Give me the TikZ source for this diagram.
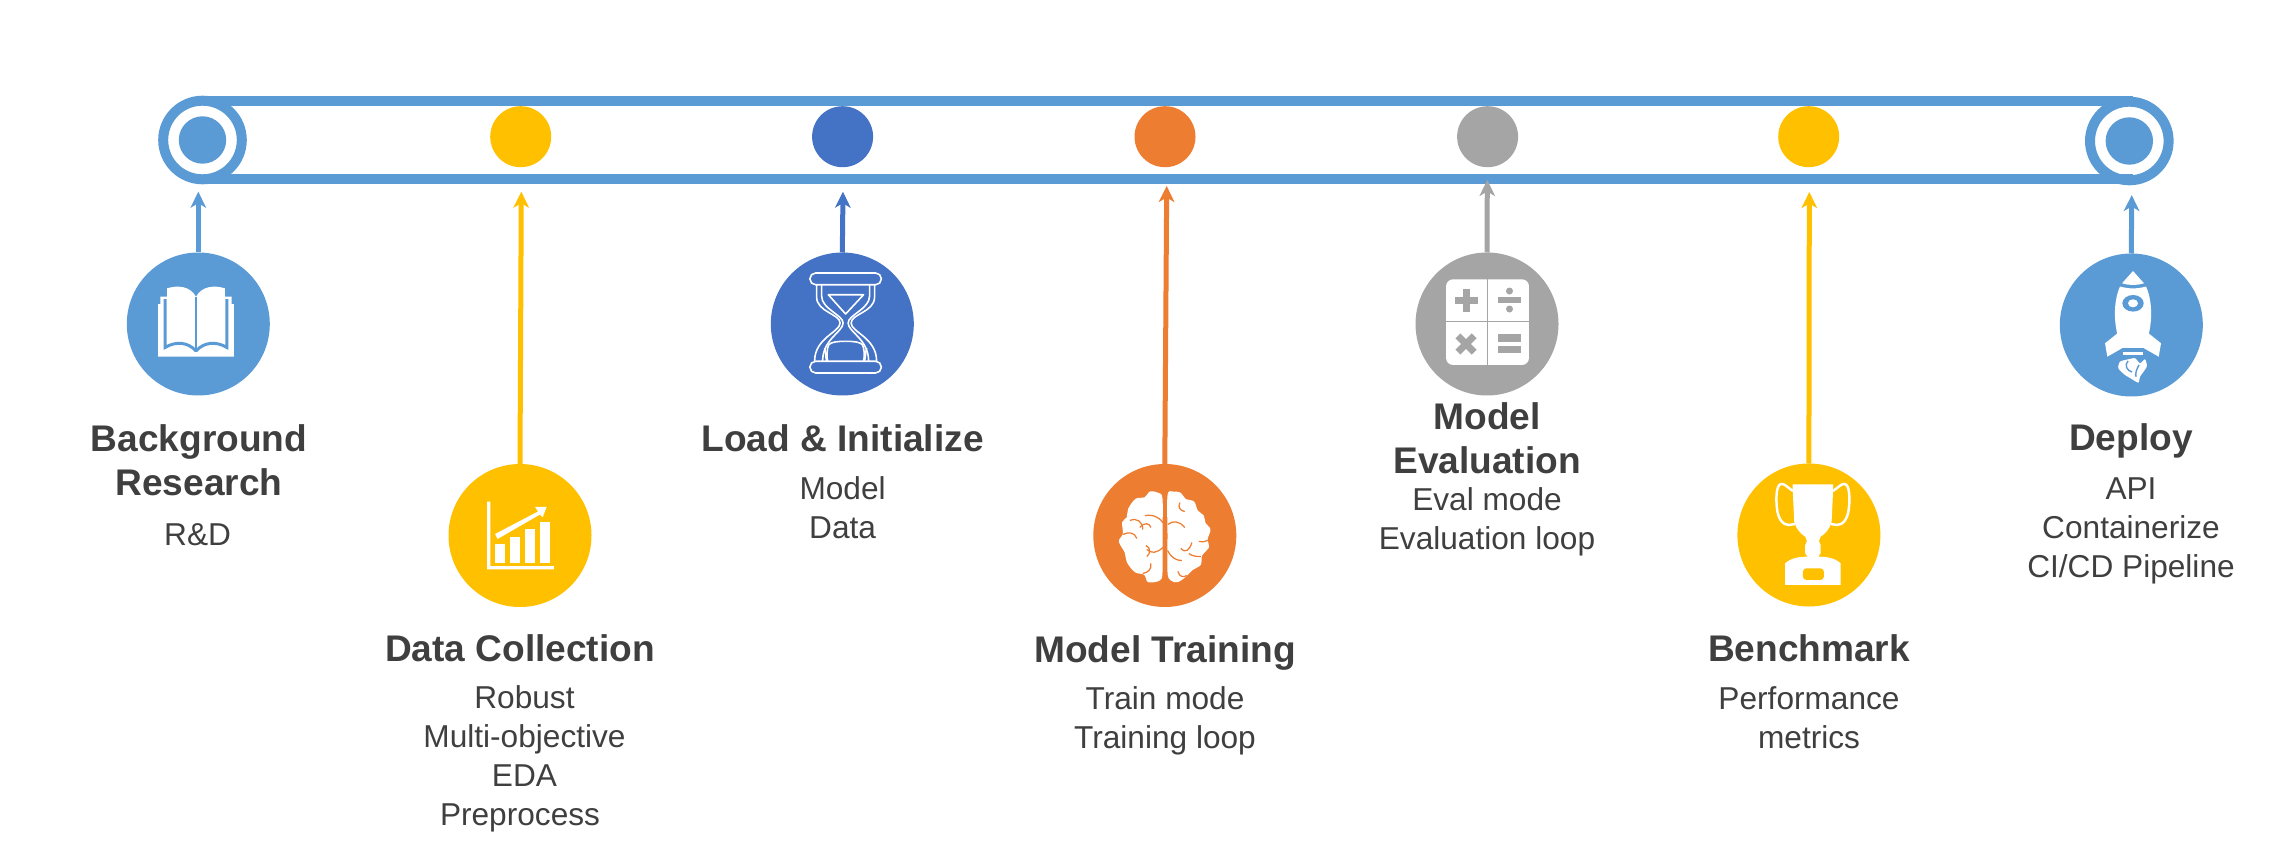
\documentclass[tikz,border=0pt]{standalone}
\usepackage{fontspec}
\setmainfont{Liberation Sans}
\usetikzlibrary{arrows.meta, positioning, calc}
\definecolor{Belt}{HTML}{5B9BD5}
\definecolor{Amber}{HTML}{FFC000}
\definecolor{Royal}{HTML}{4472C4}
\definecolor{Tangerine}{HTML}{ED7D31}
\definecolor{Ash}{HTML}{A5A5A5}
\definecolor{Ink}{HTML}{3F3F3F}
\begin{document}
\begin{tikzpicture}[text=Ink,beltline/.style={draw=Belt,line width=0.1cm},wheel/.style={circle,draw=Belt,fill=white,line width=0.1cm,minimum size=0.786cm,inner sep=0pt,outer sep=0pt},hub/.style={circle,fill=Belt,minimum size=0.474cm,inner sep=0pt},dot/.style={circle,fill=#1,minimum size=0.61cm,inner sep=0pt},badge/.style={circle,fill=#1,minimum size=1.43cm,inner sep=0pt,outer sep=0pt},link/.style={-{Stealth[length=1.6mm,width=1.55mm,inset=0.45mm]},line width=0.05cm,draw=#1},heading/.style={font=\fontsize{10.55}{12.5}\selectfont\bfseries,align=center,inner sep=0pt},detail/.style={font=\fontsize{9}{11.1}\selectfont,align=center,inner sep=0pt},iconpx/.style={shift={(#1)},x=0.01cm,y=-0.01cm},vein/.style={draw=Tangerine,line width=0.35pt},glass/.style={draw=white,line width=0.45pt}]
\useasboundingbox (0,0) rectangle (22.78,8.54);
\node[wheel] (wheelL) at (2.025,7.14){};\node[hub] (hubL) at (wheelL.center){};
\node[wheel] (wheelR) at (21.293,7.13){};\node[hub] (hubR) at (wheelR.center){};
\coordinate (beltTR) at (21.33,7.53);\coordinate (beltBR) at (21.33,6.75);
\draw[beltline] (wheelL.north) -- (wheelL.north -| beltTR);
\draw[beltline] (wheelL.south) -- (wheelL.south -| beltBR);
\node[dot=Amber] (dotData) at (5.207,7.173){};
\node[dot=Royal] (dotLoad) at (8.426,7.173){};
\node[dot=Tangerine] (dotTrain) at (11.65,7.173){};
\node[dot=Ash] (dotEval) at (14.876,7.173){};
\node[dot=Amber] (dotBench) at (18.087,7.173){};
\node[badge=Belt] (book) at (1.983,5.30){};
\node[badge=Amber] (chart) at (5.20,3.185){};
\node[badge=Royal] (hourglass) at (8.423,5.30){};
\node[badge=Tangerine] (brain) at (11.648,3.185){};
\node[badge=Ash] (calc) at (14.87,5.30){};
\node[badge=Amber] (trophy) at (18.089,3.19){};
\node[badge=Belt] (rocket) at (21.313,5.29){};
\coordinate (tipBook) at (1.983,6.623);\coordinate (tipData) at (5.213,6.623);\coordinate (tipLoad) at (8.43,6.623);\coordinate (tipTrain) at (11.667,6.68);\coordinate (tipEval) at (14.873,6.74);\coordinate (tipBench) at (18.093,6.62);\coordinate (tipDeploy) at (21.317,6.59);
\draw[link=Belt] (book.north) -- (tipBook);
\draw[link=Amber] (chart.north) -- (tipData);
\draw[link=Royal] (hourglass.north) -- (tipLoad);
\draw[link=Tangerine] (brain.north) -- (tipTrain);
\draw[link=Ash] (calc.north) -- (tipEval);
\draw[link=Amber] (trophy.north) -- (tipBench);
\draw[link=Belt] (rocket.north) -- (tipDeploy);
\node[heading] (headBook) at (1.99,3.94){Background\\Research};
\node[detail] (textBook) at (1.976,3.19){R\&D};
\node[heading] (headData) at (5.20,2.055){Data Collection};
\node[detail] (textData) at (5.245,0.95){Robust\\Multi-objective\\EDA\\Preprocess\hspace*{0.09cm}};
\node[heading] (headLoad) at (8.426,4.16){Load \& Initialize};
\node[detail] (textLoad) at (8.426,3.465){Model\\Data};
\node[heading] (headTrain) at (11.65,2.01){Model Training};
\node[detail] (textTrain) at (11.65,1.33){Train mode\\Training loop};
\node[heading] (headEval) at (14.87,4.16){Model\\Evaluation};
\node[detail] (textEval) at (14.87,3.32){Eval mode\\Evaluation loop};
\node[heading] (headBench) at (18.09,2.055){Benchmark};
\node[detail] (textBench) at (18.09,1.36){Performance\\metrics};
\node[heading] (headDeploy) at (21.31,4.13){Deploy};
\node[detail] (textDeploy) at (21.31,3.23){API\\Containerize\\CI/CD Pipeline};
\begin{scope}[iconpx=book.center,xshift=-0.023cm]
\foreach \s in {1,-1}{\begin{scope}[xscale=\s]
\fill[white] (-38,32.7) -- (-38,-20) -- (-35.7,-20) -- (-35.7,-27.3) -- (-29,-27.3) -- (-29,-35.7) .. controls (-18,-39) and (-6,-38) .. (0,-27.3) -- (0,32.7) -- cycle;
\draw[Belt,line width=0.85pt] (-31,-25) -- (-31,23.5) .. controls (-20,17) and (-8,18) .. (0,27);
\end{scope}}
\draw[Belt,line width=0.3pt] (0,-27.3) -- (0,28);
\end{scope}
\begin{scope}[iconpx=chart.center]
\fill[white] (-33,-34) -- (-29.7,-34) -- (-29.7,30.7) -- (34,30.7) -- (34,34) -- (-33,34) -- cycle;
\fill[white] (-25,9) rectangle (-15,27.3);\fill[white] (-9.7,1.3) rectangle (0,27.3);\fill[white] (5,-6.3) rectangle (15,27.3);\fill[white] (20,-13.7) rectangle (30,27.3);
\fill[white] (-25,-1.5) -- (18,-24) -- (15,-28.7) -- (26.7,-28.7) -- (22.7,-18.3) -- (20,-21) -- (-22.5,3.5) -- cycle;
\end{scope}
\begin{scope}[iconpx=hourglass.center,xshift=0.033cm]
\draw[glass,rounded corners=1.6pt] (-35.7,-51) rectangle (35.7,-39.3);
\draw[glass,rounded corners=1.6pt] (-35.7,37.3) rectangle (35.7,49);
\foreach \s in {1,-1}{\begin{scope}[xscale=\s]
\draw[glass] (-29,-39) -- (-29,-27) .. controls (-29,-12) and (-5.5,-10) .. (-5.5,-1) .. controls (-5.5,8) and (-31,14) .. (-31,37);
\draw[glass] (-24,-39) -- (-24,-28) .. controls (-24,-15) and (-2.5,-9) .. (-2.5,-1) .. controls (-2.5,8) and (-23,15) .. (-23,37);
\draw[glass] (0,17.3) .. controls (-8,17.3) and (-15,18) .. (-17,21) .. controls (-19,26) and (-19,32) .. (-18,37);
\draw[glass] (-21,24) .. controls (-20,28) and (-20,33) .. (-19,37);
\end{scope}}
\draw[glass,line join=round] (-17.3,-29.3) -- (18,-29.3) -- (0,-10) -- cycle;
\end{scope}
\begin{scope}[iconpx=brain.center]
\fill[white] plot[smooth cycle,tension=0.55] coordinates {(2.7,-40) (8.3,-44) (16,-42.7) (20.7,-36.7) (29.3,-34) (33,-25) (39,-20) (40.7,-12.7) (45.7,-6) (42.7,4) (44.3,11.7) (37.3,20) (36,29.3) (27.3,35) (20.7,41.7) (12.7,46.7) (6,45) (2.7,36.7) (2.7,0)};
\fill[white] plot[smooth cycle,tension=0.55] coordinates {(-2.3,-36.7) (-6.7,-42.7) (-15,-44) (-20,-38.3) (-29.3,-36.7) (-36.7,-26.7) (-38,-18.3) (-42.7,-13.3) (-42,-1.7) (-46,6) (-40,17.3) (-38,26.7) (-30,36.7) (-20.7,39.3) (-16.7,46.7) (-5,45) (-2.3,36.7) (-2.3,0)};
\draw[vein] (3,-11) .. controls (8,-15) and (14,-15) .. (20,-8);
\draw[vein] (15,-33) .. controls (13,-28) and (15,-25) .. (20,-24);
\draw[vein] (16,13) .. controls (20,18) and (25,15) .. (27,7);
\draw[vein] (2.7,15) .. controls (7,23) and (12,25) .. (17,25);
\draw[vein] (24,18) .. controls (28,21) and (32,21) .. (36,21);
\draw[vein] (34,6) .. controls (37,7) and (40,6) .. (43,5);
\draw[vein] (13,36) .. controls (15,42) and (19,42) .. (22,40);
\draw[vein] (-2,-13) .. controls (-7,-20) and (-14,-21) .. (-20,-20);
\draw[vein] (-35,-15) .. controls (-28,-18) and (-22,-14) .. (-22,-6);
\draw[vein] (-25,-8) .. controls (-20,-14) and (-15,-12) .. (-14,-8);
\draw[vein] (-42,-1) .. controls (-36,-4) and (-30,-3) .. (-28,3);
\draw[vein] (-2,12) .. controls (-8,18) and (-14,18) .. (-18,14);
\draw[vein] (-19,10) .. controls (-14,12) and (-14,18) .. (-18,21);
\draw[vein] (-14,28) .. controls (-13,33) and (-16,37) .. (-22,38);
\end{scope}
\begin{scope}[iconpx=calc.center]
\fill[white,rounded corners=2pt] (-41,-44.7) rectangle (42,41);
\draw[Ash,line width=0.35pt] (0.5,-44.7) -- (0.5,41);\draw[Ash,line width=0.35pt] (-41,-2.3) -- (42,-2.3);
\fill[Ash] (-32.5,-27.5) rectangle (-9.5,-20.5);\fill[Ash] (-24.5,-35.5) rectangle (-17.5,-12.5);
\fill[Ash] (11,-27) rectangle (34,-21);\fill[Ash] (22.5,-33) circle[radius=3.5];\fill[Ash] (22.5,-15) circle[radius=3.5];
\fill[Ash,rotate around={45:(-21,20)}] (-32.5,16.5) rectangle (-9.5,23.5);\fill[Ash,rotate around={45:(-21,20)}] (-24.5,8.5) rectangle (-17.5,31.5);
\fill[Ash] (11,10) rectangle (34,17.7);\fill[Ash] (11,21.7) rectangle (34,29.3);
\end{scope}
\begin{scope}[iconpx=trophy.center,xshift=0.04cm]
\foreach \s in {1,-1}{\begin{scope}[xscale=\s]
\fill[white] (0,-50.7) -- (20.3,-50.7) -- (20.3,-47) -- (18.7,-13.3) .. controls (17,-6) and (12,-1) .. (7.7,1.7) -- (6,6) -- (7.7,10) -- (7.7,18.3) -- (5.3,21.7) .. controls (14,21.7) and (22,23) .. (27.7,28.3) -- (27.7,50) -- (0,50) -- cycle;
\draw[white,line width=0.7pt] (20,-44) .. controls (26,-48) and (29,-52) .. (32,-51) .. controls (37,-50) and (37,-35) .. (36,-27) .. controls (35,-16) and (30,-10) .. (24,-10) -- (18,-11);
\end{scope}}
\fill[Amber,rounded corners=1pt] (-10,33.3) rectangle (11,45);
\end{scope}
\begin{scope}[iconpx=rocket.center,xshift=0.017cm]
\fill[white] (0,-54) -- (-11,-41.7) .. controls (-4,-39.5) and (4,-39.5) .. (11,-41.7) -- cycle;
\fill[white] (-13,-38.5) .. controls (-4,-36) and (4,-36) .. (13,-38.5) .. controls (18,-28) and (20,-10) .. (16,8) -- (13,23) -- (-13,23) -- (-16,8) .. controls (-20,-10) and (-18,-28) .. (-13,-38.5) -- cycle;
\fill[white] (-15.5,8.3) -- (-28,18.3) -- (-25.7,31.7) -- (-11,23.3) -- cycle;
\fill[white] (15.5,8.3) -- (28,18.3) -- (25.7,31.7) -- (11,23.3) -- cycle;
\fill[Belt] (0,-21.7) ellipse[x radius=10.7,y radius=8.3];\fill[white] (0,-21.7) ellipse[x radius=5,y radius=4];
\fill[white] (-10,26.7) rectangle (10,30);
\fill[white] plot[smooth cycle,tension=0.4] coordinates {(-4.7,34.3) (-13,36.7) (-14.7,43.3) (-8,50) (-3,53) (5.3,57.7) (7,51.7) (13.7,41.7) (12,34.3) (7,38.3) (2,33.3)};
\draw[Belt,line width=0.4pt] (-5,36) .. controls (-9,40) and (-6,46) .. (-1,47);
\draw[Belt,line width=0.4pt] (6,40) .. controls (4,44) and (2,47) .. (3,52);
\end{scope}
\end{tikzpicture}
\end{document}
